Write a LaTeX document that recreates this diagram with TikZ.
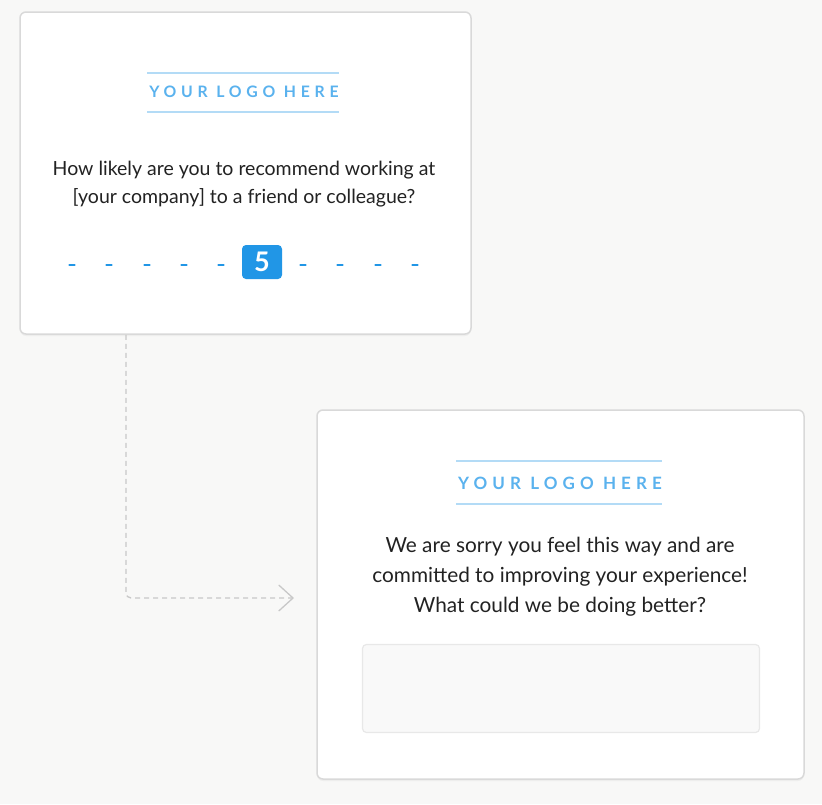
\documentclass[tikz,border=0pt]{standalone}
\usepackage{fontspec}
\setmainfont{Lato}
\usetikzlibrary{arrows.meta,calc,shadows}
\definecolor{pagebg}{HTML}{F8F8F7}
\definecolor{cardline}{HTML}{D9D9D9}
\definecolor{logoblue}{HTML}{5AB2EE}
\definecolor{logorule}{HTML}{B3DBF6}
\definecolor{scaleblue}{HTML}{2196E6}
\definecolor{flowgray}{HTML}{C8C8C8}
\definecolor{fieldbg}{HTML}{F9F9F9}
\definecolor{fieldline}{HTML}{E8E8E8}
\definecolor{bodytext}{HTML}{222222}
\tikzset{%
        card/.style = {
            draw = cardline,
            fill = white,
            line width = 1.5pt,
            rounded corners = 6pt,
            drop shadow = {shadow xshift=0pt, shadow yshift=-2pt, opacity=0.08}
        },
        logotext/.style = {
            text = logoblue,
            font = \fontsize{#1}{17}\selectfont\bfseries\addfontfeatures{LetterSpace=30}
        },
        logorule/.style = {
            draw = logorule,
            line width = 1.5pt
        },
        question/.style 2 args = {
            text = bodytext,
            align = center,
            font = \fontsize{#1}{#2}\selectfont
        },
        tick/.style = {
            draw = scaleblue,
            line width = 2.6pt,
            line cap = round
        },
        chosen/.style = {
            fill = scaleblue,
            rounded corners = 4pt,
            minimum width = 40pt,
            minimum height = 34pt,
            text = white,
            font = \fontsize{27}{27}\selectfont\bfseries
        },
        field/.style = {
            draw = fieldline,
            fill = fieldbg,
            line width = 1.2pt,
            rounded corners = 4pt,
            minimum width = 397pt,
            minimum height = 88pt
        },
        flow/.style = {
            draw = flowgray,
            line width = 1.3pt,
            dash pattern = on 5pt off 4pt,
            -{Straight Barb[length=11pt,width=20pt,line width=1.3pt,scale=1.3]}
        }
}

\begin{document}
\begin{tikzpicture}[x=1pt,y=-1pt]
        \useasboundingbox[fill=pagebg] (0,0) rectangle (822,804);

        % first card: the rating question
        \node[card, minimum width=451pt, minimum height=322pt] (card1) at (245.5,173) {};
        \draw[logorule] (147,73) -- (339,73);
        \draw[logorule] (147,112) -- (339,112);
        \node[logotext=15.8] (logo1) at (244,92) {YOUR LOGO HERE};
        \node[question={19.5}{28.3}] (ask) at (244,184)
            {How likely are you to recommend working at\\{[}your company{]} to a friend or colleague?};
        \foreach \x [count=\i] in {72,109,147,184,221,303,340,378,415}
            \draw[tick] (\x-2.5,265) -- (\x+2.5,265);
        \node[chosen] (five) at (262,262) {5};

        % second card: the follow-up
        \node[card, minimum width=487pt, minimum height=369pt] (card2) at (560.5,594.5) {};
        \draw[logorule] (456,461) -- (662,461);
        \draw[logorule] (456,504) -- (662,504);
        \node[logotext=17] (logo2) at (560,483) {YOUR LOGO HERE};
        \node[question={20.8}{30.2}] (reply) at (560,577)
            {We are sorry you feel this way and are\\committed to improving your experience!\\What could we be doing better?};
        \node[field] (answer) at (561,688.5) {};

        % connector
        \coordinate (turn) at (126,598);
        \coordinate (tip) at (294,598);
        \draw[flow] (card1.south -| turn) [rounded corners=5pt] -- (turn) [sharp corners] -- (tip);
\end{tikzpicture}
\end{document}
